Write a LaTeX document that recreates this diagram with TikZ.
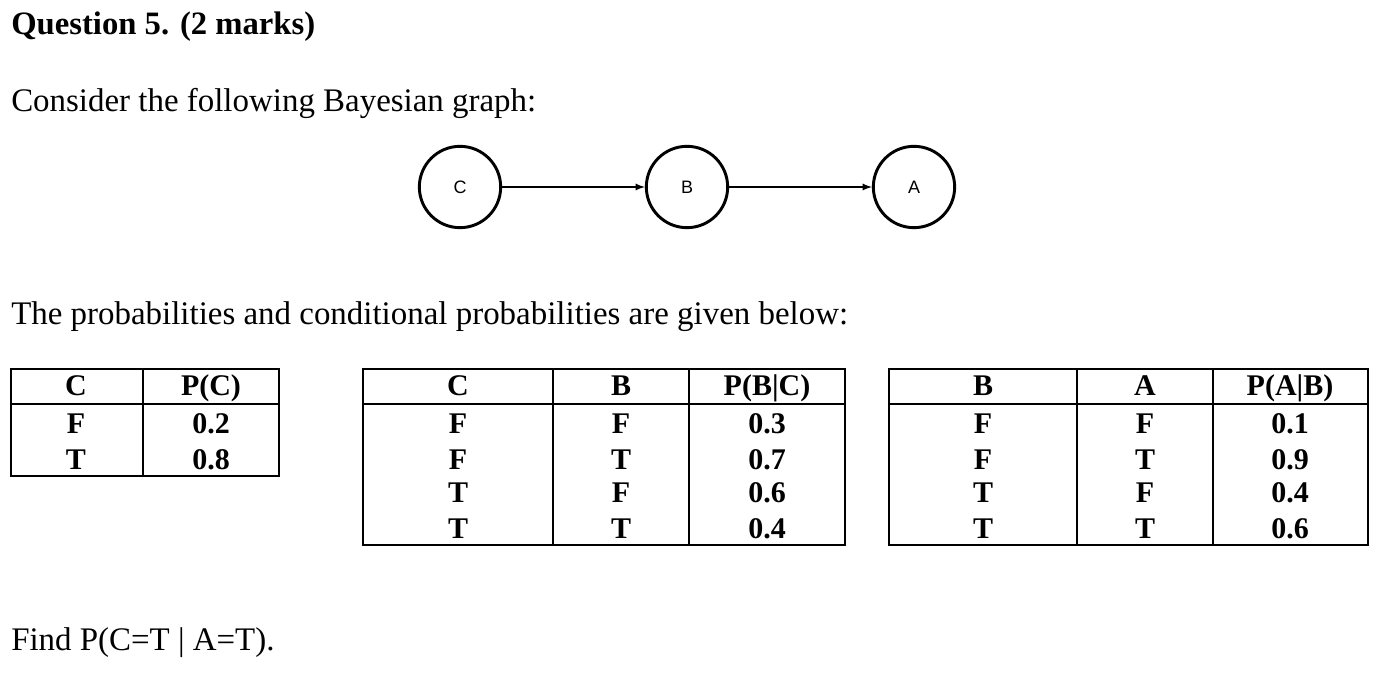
\documentclass[tikz,border=0pt]{standalone}
\usepackage{fontspec}
\setmainfont{Liberation Serif}
\setsansfont{Liberation Sans}
\begin{document}
\begin{tikzpicture}[x=0.75pt,y=-0.75pt,
  txt/.style={anchor=base west,inner sep=0,font=\fontsize{24.7}{29}\selectfont},
  cell/.style={anchor=base,inner sep=0,font=\fontsize{22.5}{26}\selectfont\bfseries},
  var/.style={circle,draw,line width=2.2pt,minimum size=61pt,inner sep=0,font=\sffamily\fontsize{13.5}{16}\selectfont},
  edge/.style={-latex,line width=1.4pt},
  grid/.style={line width=0.8pt}]
\useasboundingbox (0,0) rectangle (1399,680);
\node[txt,font=\fontsize{24.5}{29}\selectfont\bfseries] (q) at (11,35) {Question 5. (2 marks)};
\node[txt] (cons) at (11,112) {Consider the following Bayesian graph:};
\node[txt] (prob) at (11,325) {The probabilities and conditional probabilities are given below:};
\node[txt] (find) at (11,650) {Find P(C=T | A=T).};
\node[var] (C) at (460,187) {C};
\node[var] (B) at (687,187) {B};
\node[var] (A) at (914,187) {A};
\draw[edge] (C) -- (B);
\draw[edge] (B) -- (A);
% table 1
\draw[grid] (11,369) rectangle (279,476);
\draw[grid] (143,369) -- (143,476);
\draw[grid] (11,404) -- (279,404);
\foreach \t/\x/\y in {C/76/396,P(C)/211/396,F/76/434,0.2/211/434,T/76/470,0.8/211/470}
  \node[cell] at (\x,\y) {\t};
% table 2
\draw[grid] (363,369) rectangle (845,545);
\draw[grid] (553,369) -- (553,545);
\draw[grid] (689,369) -- (689,545);
\draw[grid] (363,404) -- (845,404);
\foreach \a/\b/\c/\y in {C/B/P(B|C)/396,F/F/0.3/434,F/T/0.7/470,T/F/0.6/503,T/T/0.4/538}{
  \node[cell] at (458,\y) {\a};
  \node[cell] at (621,\y) {\b};
  \node[cell] at (767,\y) {\c};}
% table 3
\draw[grid] (889,369) rectangle (1368,545);
\draw[grid] (1077,369) -- (1077,545);
\draw[grid] (1213,369) -- (1213,545);
\draw[grid] (889,404) -- (1368,404);
\foreach \a/\b/\c/\y in {B/A/P(A|B)/396,F/F/0.1/434,F/T/0.9/470,T/F/0.4/503,T/T/0.6/538}{
  \node[cell] at (983,\y) {\a};
  \node[cell] at (1145,\y) {\b};
  \node[cell] at (1290,\y) {\c};}
\end{tikzpicture}
\end{document}
